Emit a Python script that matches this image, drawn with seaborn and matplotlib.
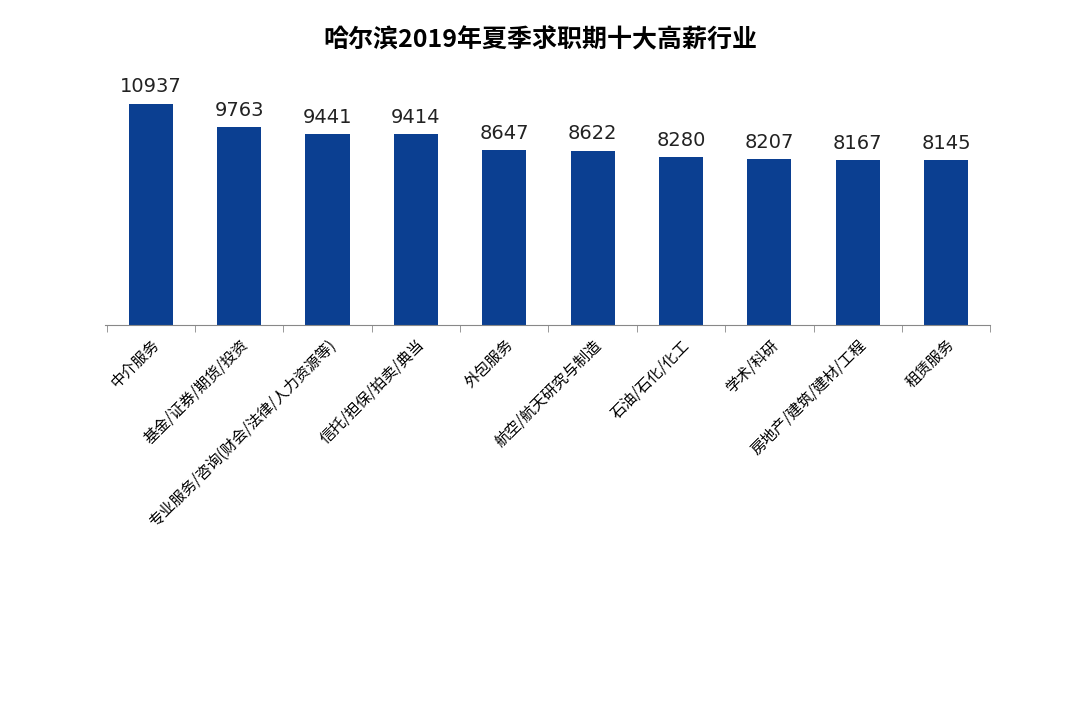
import matplotlib
matplotlib.use("Agg")
import matplotlib.pyplot as plt
from matplotlib import font_manager as fm
import seaborn as sns
import pandas as pd
import numpy as np

cjk = None
for f in fm.findSystemFonts():
    n = f.lower()
    if "notosanscjk" in n.replace(" ", "").replace("-", "") or "notosanscjk" in n.replace("_", ""):
        cjk = f
        break
if cjk:
    fm.fontManager.addfont(cjk)
    fam = fm.FontProperties(fname=cjk).get_name()
else:
    fam = "Noto Sans CJK SC"
plt.rcParams["font.family"] = [fam, "DejaVu Sans"]
plt.rcParams["font.sans-serif"] = [fam, "DejaVu Sans"]

categories = ["中介服务", "基金/证券/期货/投资", "专业服务/咨询(财会/法律/人力资源等)",
              "信托/担保/拍卖/典当", "外包服务", "航空/航天研究与制造", "石油/石化/化工",
              "学术/科研", "房地产/建筑/建材/工程", "租赁服务"]
values = [10937, 9763, 9441, 9414, 8647, 8622, 8280, 8207, 8167, 8145]
title = "哈尔滨2019年夏季求职期十大高薪行业"

df = pd.DataFrame({"cat": categories, "val": values})
fig = plt.figure(figsize=(10.8, 7.26), dpi=100)
ax = fig.add_axes([0.097, 0.552, 0.82, 0.335])
sns.barplot(data=df, x="cat", y="val", color="#0b3f91", width=0.5, saturation=1, ax=ax)
ax.set_ylim(0, 12000)
ax.set_xlim(-0.52, len(categories) - 0.53)
for i, v in enumerate(values):
    ax.text(i, v + 350, str(v), ha="center", va="bottom", fontsize=14, color="#222222",
            family="DejaVu Sans")
for s in ["top", "right", "left"]:
    ax.spines[s].set_visible(False)
ax.spines["bottom"].set_color("#888888")
ax.set_yticks([])
ax.set_xlabel("")
ax.set_ylabel("")
ax.set_xticks(np.arange(len(categories)))
ax.set_xticklabels(categories, rotation=45, ha="right", rotation_mode="anchor", fontsize=11,
                   family=fam)
ax.tick_params(axis="x", length=0, pad=8)
ax.set_xticks(np.arange(len(categories) + 1) - 0.5, minor=True)
ax.tick_params(axis="x", which="minor", length=5, color="#888888")
fig.text(0.5, 0.945, title, ha="center", va="center", fontsize=18, fontweight="bold", family=fam)
fig.savefig("out.png", dpi=100)
